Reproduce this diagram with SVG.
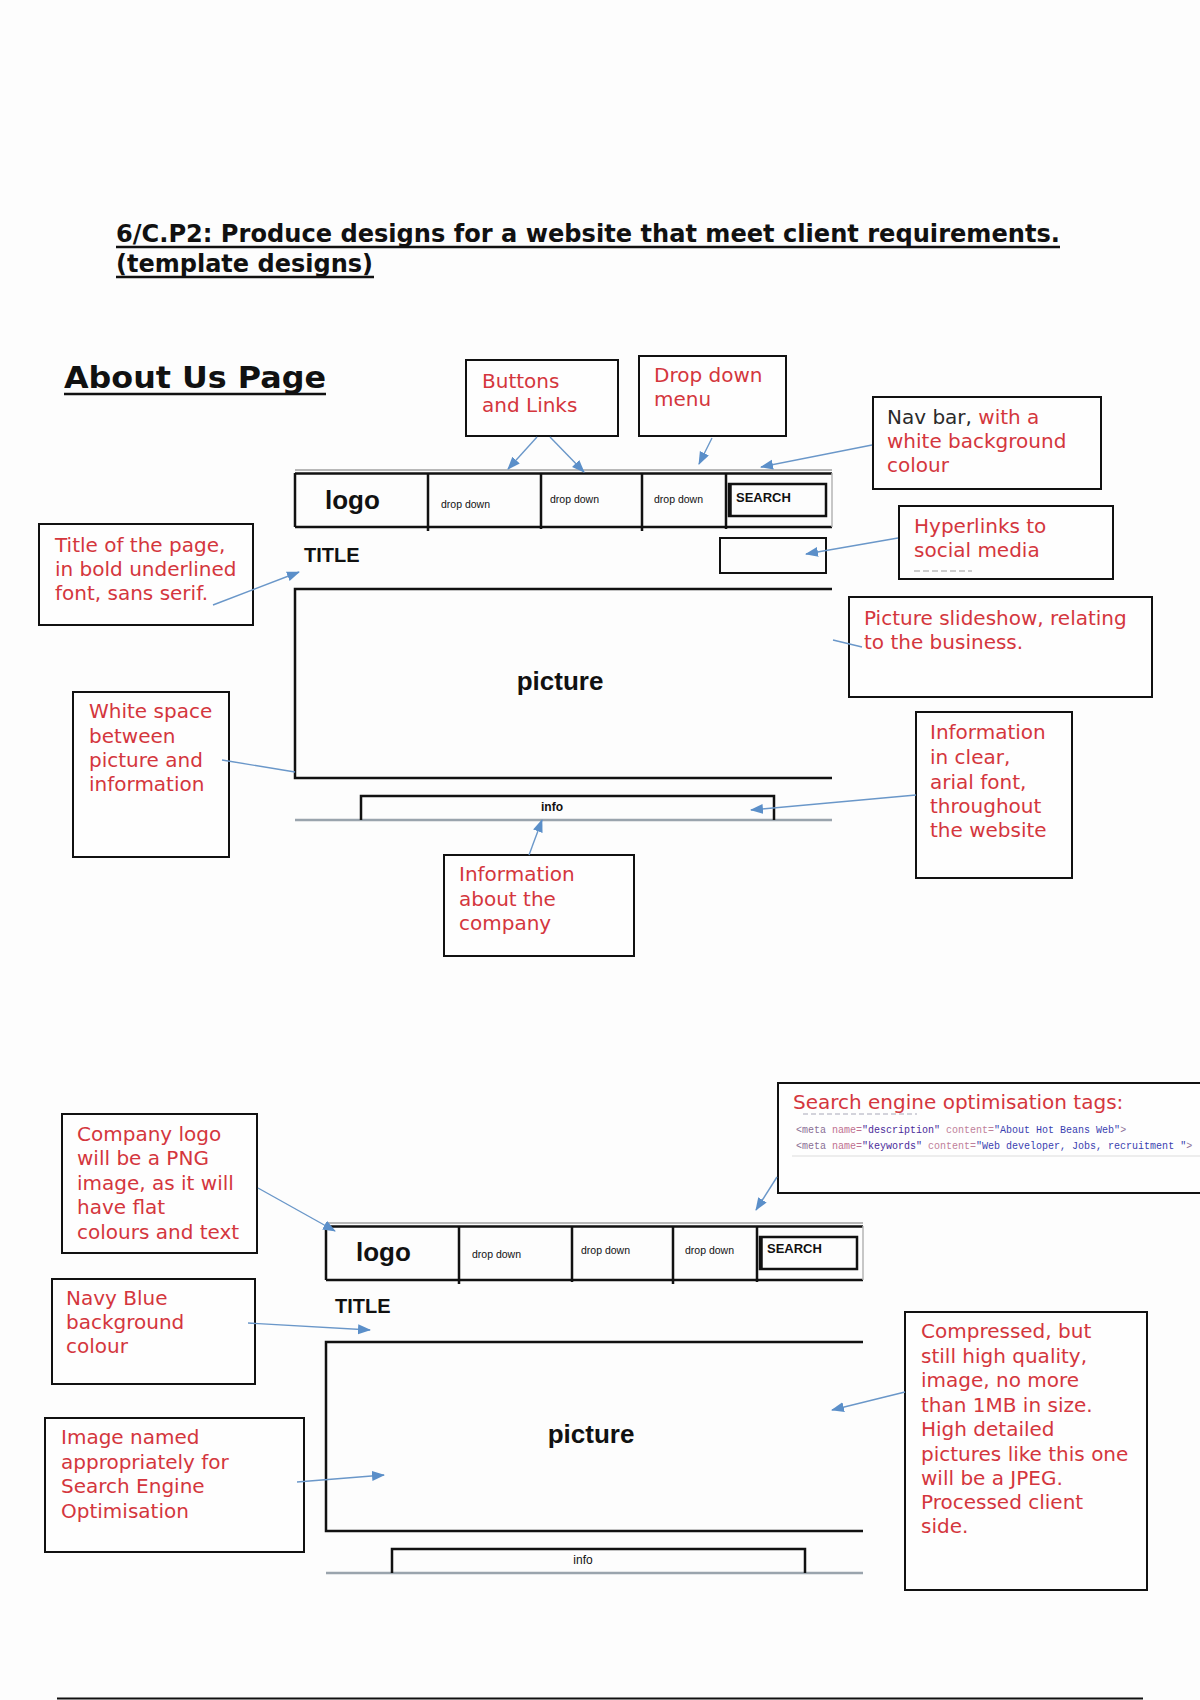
<svg xmlns="http://www.w3.org/2000/svg" width="1200" height="1700" viewBox="0 0 1200 1700">
<defs>
<marker id="ah" markerUnits="userSpaceOnUse" markerWidth="14" markerHeight="12" refX="12" refY="5" orient="auto">
<path d="M0,0 L13,5 L0,10 z" fill="#5b8fc9"/>
</marker>
<style>
.ann{font-family:"DejaVu Sans",Verdana,sans-serif;font-size:20px;fill:#d4363d}
.dark{fill:#2a2a2a}
.box{fill:#fefefe;stroke:#111;stroke-width:2}
.wf{fill:none;stroke:#111;stroke-width:2.5}
.wfg{fill:none;stroke:#9aa4ad;stroke-width:2.5}
.ar{font-family:"Liberation Sans",Arial,sans-serif;fill:#111}
.b{font-weight:bold}
.con{fill:none;stroke:#6a97c9;stroke-width:1.4}
.code{font-family:"Liberation Mono","Courier New",monospace;font-size:10px}
</style>
</defs>
<rect x="0" y="0" width="1200" height="1700" fill="#fdfdfd"/>

<g id="heading">
<text x="116" y="242" font-family="DejaVu Sans,Verdana,sans-serif" font-weight="bold" font-size="24" fill="#111" textLength="944" lengthAdjust="spacingAndGlyphs">6/C.P2: Produce designs for a website that meet client requirements.</text>
<line x1="116" y1="247" x2="1060" y2="247" stroke="#111" stroke-width="2.5"/>
<text x="116" y="272" font-family="DejaVu Sans,Verdana,sans-serif" font-weight="bold" font-size="24" fill="#111" textLength="257" lengthAdjust="spacingAndGlyphs">(template designs)</text>
<line x1="116" y1="277" x2="374" y2="277" stroke="#111" stroke-width="2.5"/>
</g>

<g id="page-title">
<text x="64" y="388" font-family="DejaVu Sans,Verdana,sans-serif" font-weight="bold" font-size="31" fill="#111" textLength="262" lengthAdjust="spacingAndGlyphs">About Us Page</text>
<line x1="64" y1="394" x2="326" y2="394" stroke="#111" stroke-width="2.5"/>
</g>

<!-- top wireframe -->
<g id="wireframe-top">
<line x1="295" y1="470" x2="832" y2="470" stroke="#a0a0a0" stroke-width="1.5"/>
<path class="wf" d="M295,473.5 H832 M295,527 H832 M295,473 V527"/>
<line x1="832" y1="473" x2="832" y2="527" stroke="#b5b5b5" stroke-width="1.5"/>
<path class="wf" d="M428,473 V531 M541,473 V529 M642,473 V531 M726,473 V529"/>
<rect x="729" y="484" width="97" height="32" fill="none" stroke="#111" stroke-width="2.5"/>
<line x1="730" y1="484" x2="730" y2="516" stroke="#111" stroke-width="3.5"/>
<text class="ar b" x="325" y="509" font-size="26">logo</text>
<text class="ar" x="441" y="508" font-size="10.5">drop down</text>
<text class="ar" x="550" y="503" font-size="10.5">drop down</text>
<text class="ar" x="654" y="503" font-size="10.5">drop down</text>
<text class="ar b" x="736" y="502" font-size="13">SEARCH</text>
<text class="ar b" x="304" y="562" font-size="20">TITLE</text>
<rect x="720" y="538" width="106" height="35" fill="none" stroke="#111" stroke-width="2"/>
<path class="wf" d="M832,589 H295 V778 H832"/>
<text class="ar b" x="560" y="690" font-size="26" text-anchor="middle">picture</text>
<path class="wfg" d="M295,820 H832"/>
<path class="wf" d="M361,820 V796 H774 V820" stroke-width="2"/>
<text class="ar b" x="552" y="811" font-size="12" text-anchor="middle">info</text>
</g>

<!-- bottom wireframe -->
<g id="wireframe-bottom" transform="translate(31,753)">
<line x1="295" y1="470" x2="832" y2="470" stroke="#a0a0a0" stroke-width="1.5"/>
<path class="wf" d="M295,473.5 H832 M295,527 H832 M295,473 V527"/>
<line x1="832" y1="473" x2="832" y2="527" stroke="#b5b5b5" stroke-width="1.5"/>
<path class="wf" d="M428,473 V531 M541,473 V529 M642,473 V531 M726,473 V529"/>
<rect x="729" y="484" width="97" height="32" fill="none" stroke="#111" stroke-width="2.5"/>
<line x1="730" y1="484" x2="730" y2="516" stroke="#111" stroke-width="3.5"/>
<text class="ar b" x="325" y="508" font-size="26">logo</text>
<text class="ar" x="441" y="505" font-size="10.5">drop down</text>
<text class="ar" x="550" y="501" font-size="10.5">drop down</text>
<text class="ar" x="654" y="501" font-size="10.5">drop down</text>
<text class="ar b" x="736" y="500" font-size="13">SEARCH</text>
<text class="ar b" x="304" y="560" font-size="20">TITLE</text>
<path class="wf" d="M832,589 H295 V778 H832"/>
<text class="ar b" x="560" y="690" font-size="26" text-anchor="middle">picture</text>
<path class="wfg" d="M295,820 H832"/>
<path class="wf" d="M361,820 V796 H774 V820" stroke-width="2"/>
<text class="ar" x="552" y="811" font-size="12" text-anchor="middle">info</text>
</g>

<!-- annotation nodes -->
<g id="n-buttons">
<rect class="box" x="466" y="360" width="152" height="76"/>
<text class="ann" x="482" y="388">Buttons</text>
<text class="ann" x="482" y="412">and Links</text>
</g>
<g id="n-dropdown">
<rect class="box" x="639" y="356" width="147" height="80"/>
<text class="ann" x="654" y="382">Drop down</text>
<text class="ann" x="654" y="406">menu</text>
</g>
<g id="n-navbar">
<rect class="box" x="873" y="397" width="228" height="92"/>
<text class="ann" x="887" y="424"><tspan class="dark">Nav bar,</tspan> with a</text>
<text class="ann" x="887" y="448">white background</text>
<text class="ann" x="887" y="472">colour</text>
</g>
<g id="n-hyperlinks">
<rect class="box" x="899" y="506" width="214" height="73"/>
<text class="ann" x="914" y="533">Hyperlinks to</text>
<text class="ann" x="914" y="557">social media</text>
<line x1="914" y1="571" x2="972" y2="571" stroke="#9a9a9a" stroke-width="1.2" stroke-dasharray="6 3"/>
</g>
<g id="n-slideshow">
<rect class="box" x="849" y="597" width="303" height="100"/>
<text class="ann" x="864" y="625">Picture slideshow, relating</text>
<text class="ann" x="864" y="649">to the business.</text>
</g>
<g id="n-arial">
<rect class="box" x="916" y="712" width="156" height="166"/>
<text class="ann" x="930" y="739">Information</text>
<text class="ann" x="930" y="764">in clear,</text>
<text class="ann" x="930" y="789">arial font,</text>
<text class="ann" x="930" y="813">throughout</text>
<text class="ann" x="930" y="837">the website</text>
</g>
<g id="n-title">
<rect class="box" x="39" y="524" width="214" height="101"/>
<text class="ann" x="55" y="552">Title of the page,</text>
<text class="ann" x="55" y="576">in bold underlined</text>
<text class="ann" x="55" y="600">font, sans serif.</text>
</g>
<g id="n-whitespace">
<rect class="box" x="73" y="692" width="156" height="165"/>
<text class="ann" x="89" y="718">White space</text>
<text class="ann" x="89" y="743">between</text>
<text class="ann" x="89" y="767">picture and</text>
<text class="ann" x="89" y="791">information</text>
</g>
<g id="n-company-info">
<rect class="box" x="444" y="855" width="190" height="101"/>
<text class="ann" x="459" y="881">Information</text>
<text class="ann" x="459" y="906">about the</text>
<text class="ann" x="459" y="930">company</text>
</g>

<g id="n-seo">
<rect class="box" x="778" y="1083" width="440" height="110"/>
<text class="ann" x="793" y="1109">Search engine optimisation tags:</text>
<line x1="803" y1="1114" x2="917" y2="1114" stroke="#a8a8b8" stroke-width="1" stroke-dasharray="5 3"/>
<text class="code" x="796" y="1133"><tspan fill="#8a6f95">&lt;meta</tspan> <tspan fill="#c0708f">name=</tspan><tspan fill="#4a2a9a">"description"</tspan> <tspan fill="#c0809a">content=</tspan><tspan fill="#3a3fb0">"About Hot Beans Web"</tspan><tspan fill="#8a6f95">&gt;</tspan></text>
<text class="code" x="796" y="1149"><tspan fill="#8a6f95">&lt;meta</tspan> <tspan fill="#c0708f">name=</tspan><tspan fill="#4a2a9a">"keywords"</tspan> <tspan fill="#c0809a">content=</tspan><tspan fill="#3a3fb0">"Web developer, Jobs, recruitment "</tspan><tspan fill="#8a6f95">&gt;</tspan></text>
<line x1="792" y1="1156" x2="1200" y2="1156" stroke="#dcdcdc" stroke-width="1"/>
</g>
<g id="n-logo-png">
<rect class="box" x="62" y="1114" width="195" height="139"/>
<text class="ann" x="77" y="1141">Company logo</text>
<text class="ann" x="77" y="1165">will be a PNG</text>
<text class="ann" x="77" y="1190">image, as it will</text>
<text class="ann" x="77" y="1214">have flat</text>
<text class="ann" x="77" y="1239">colours and text</text>
</g>
<g id="n-navy">
<rect class="box" x="52" y="1279" width="203" height="105"/>
<text class="ann" x="66" y="1305">Navy Blue</text>
<text class="ann" x="66" y="1329">background</text>
<text class="ann" x="66" y="1353">colour</text>
</g>
<g id="n-image-named">
<rect class="box" x="45" y="1418" width="259" height="134"/>
<text class="ann" x="61" y="1444">Image named</text>
<text class="ann" x="61" y="1469">appropriately for</text>
<text class="ann" x="61" y="1493">Search Engine</text>
<text class="ann" x="61" y="1518">Optimisation</text>
</g>
<g id="n-compressed">
<rect class="box" x="905" y="1312" width="242" height="278"/>
<text class="ann" x="921" y="1338">Compressed, but</text>
<text class="ann" x="921" y="1363">still high quality,</text>
<text class="ann" x="921" y="1387">image, no more</text>
<text class="ann" x="921" y="1412">than 1MB in size.</text>
<text class="ann" x="921" y="1436">High detailed</text>
<text class="ann" x="921" y="1461">pictures like this one</text>
<text class="ann" x="921" y="1485">will be a JPEG.</text>
<text class="ann" x="921" y="1509">Processed client</text>
<text class="ann" x="921" y="1533">side.</text>
</g>

<g id="connectors">
<line class="con" x1="537" y1="437" x2="508" y2="469" marker-end="url(#ah)"/>
<line class="con" x1="550" y1="437" x2="584" y2="472" marker-end="url(#ah)"/>
<line class="con" x1="712" y1="438" x2="699" y2="464" marker-end="url(#ah)"/>
<line class="con" x1="872" y1="445" x2="761" y2="467" marker-end="url(#ah)"/>
<line class="con" x1="898" y1="538" x2="806" y2="554" marker-end="url(#ah)"/>
<line class="con" x1="833" y1="640" x2="862" y2="647"/>
<line class="con" x1="916" y1="795" x2="751" y2="810" marker-end="url(#ah)"/>
<line class="con" x1="213" y1="605" x2="299" y2="572" marker-end="url(#ah)"/>
<line class="con" x1="222" y1="760" x2="295" y2="772"/>
<line class="con" x1="529" y1="855" x2="542" y2="820" marker-end="url(#ah)"/>
<line class="con" x1="777" y1="1177" x2="756" y2="1210" marker-end="url(#ah)"/>
<line class="con" x1="258" y1="1188" x2="335" y2="1231" marker-end="url(#ah)"/>
<line class="con" x1="248" y1="1323" x2="370" y2="1330" marker-end="url(#ah)"/>
<line class="con" x1="297" y1="1482" x2="384" y2="1475" marker-end="url(#ah)"/>
<line class="con" x1="905" y1="1392" x2="832" y2="1410" marker-end="url(#ah)"/>
</g>

<g id="footer-rule">
<line x1="57" y1="1698.5" x2="1143" y2="1698.5" stroke="#111" stroke-width="2.2"/>
</g>
</svg>
